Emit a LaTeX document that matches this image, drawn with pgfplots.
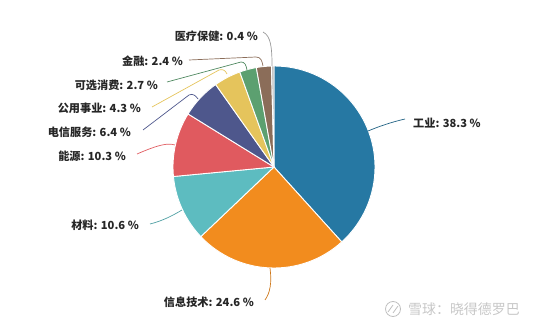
\documentclass[border=0pt]{standalone}
\usepackage{pgfplots}
\pgfplotsset{compat=1.18}
\usepackage{pgfplotstable}
\usepackage{fontspec}
\setmainfont{Noto Sans CJK SC}
\definecolor{cA}{RGB}{38,120,163}
\definecolor{cB}{RGB}{242,140,30}
\definecolor{cC}{RGB}{93,188,192}
\definecolor{cD}{RGB}{224,90,95}
\definecolor{cE}{RGB}{78,87,140}
\definecolor{cF}{RGB}{229,196,92}
\definecolor{cG}{RGB}{92,160,112}
\definecolor{cH}{RGB}{139,109,89}
\definecolor{cI}{RGB}{190,190,190}
\pgfplotstableread[col sep=comma]{
name,value,color
工业,38.3,cA
信息技术,24.6,cB
材料,10.6,cC
能源,10.3,cD
电信服务,6.4,cE
公用事业,4.3,cF
可选消费,2.7,cG
金融,2.4,cH
医疗保健,0.4,cI
}\piedata
\begin{document}
\begin{tikzpicture}
\begin{axis}[
  width=549bp, height=328bp, scale only axis,
  xmin=0, xmax=549, ymin=0, ymax=328,
  hide axis, clip=false]
\path (axis cs:0,0) rectangle (axis cs:549,328);
\pgfplotstablegetrowsof{\piedata}
\pgfmathtruncatemacro\N{\pgfplotsretval-1}
\def\cum{0}
\pgfplotsforeachungrouped \i in {0,...,\N}{%
  \pgfplotstablegetelem{\i}{value}\of\piedata \let\v\pgfplotsretval
  \pgfplotstablegetelem{\i}{color}\of\piedata \let\c\pgfplotsretval
  \pgfmathsetmacro\sa{90-\cum*3.6}%
  \pgfmathsetmacro\ea{90-(\cum+\v)*3.6}%
  \edef\temp{\noexpand\fill[\c, draw=white, line width=0.9pt, line join=round] (axis cs:274,161) -- ++(\sa:101bp) arc[start angle=\sa, end angle=\ea, radius=101bp] -- cycle;}%
  \temp
  \pgfmathsetmacro\cum{\cum+\v}%
}
% leader lines (pixel y -> 328 - y)
\draw[cA!80!black, line width=0.7pt] (axis cs:368,197) .. controls (axis cs:380,202) and (axis cs:392,206) .. (axis cs:405,209);
\draw[cB!85!black, line width=0.7pt] (axis cs:270,60) .. controls (axis cs:272,45) and (axis cs:270,35) .. (axis cs:265,28);
\draw[cC!85!black, line width=0.7pt] (axis cs:182,118) .. controls (axis cs:172,112) and (axis cs:162,107) .. (axis cs:150,104);
\draw[cD, line width=0.7pt] (axis cs:175,183) .. controls (axis cs:168,185) and (axis cs:160,184) .. (axis cs:137,174);
\draw[cE, line width=0.7pt] (axis cs:198,229) .. controls (axis cs:196,232) and (axis cs:193,235) .. (axis cs:189,233) -- (axis cs:143,198);
\draw[cF, line width=0.7pt] (axis cs:227,254) .. controls (axis cs:225,258) and (axis cs:223,259) .. (axis cs:219,258) -- (axis cs:152,221);
\draw[cG!85!black, line width=0.7pt] (axis cs:247,258) .. controls (axis cs:246,263) and (axis cs:245,266) .. (axis cs:241,266) -- (axis cs:167,246);
\draw[cH, line width=0.7pt] (axis cs:263,262) .. controls (axis cs:262,267) and (axis cs:261,271) .. (axis cs:256,271) -- (axis cs:189,268);
\draw[cI!80!black, line width=0.7pt] (axis cs:272,262) .. controls (axis cs:272,280) and (axis cs:271,292) .. (axis cs:263,296);
% labels
\begin{scope}[every node/.style={inner sep=0pt, font=\fontsize{11.2}{13}\selectfont\bfseries, text=black!85}]
\node[anchor=west] at (axis cs:413,205) {工业: 38.3 \%};
\node[anchor=east] at (axis cs:254,26) {信息技术: 24.6 \%};
\node[anchor=east] at (axis cs:139,103) {材料: 10.6 \%};
\node[anchor=east] at (axis cs:126,172) {能源: 10.3 \%};
\node[anchor=east] at (axis cs:131,196) {电信服务: 6.4 \%};
\node[anchor=east] at (axis cs:141,220) {公用事业: 4.3 \%};
\node[anchor=east] at (axis cs:158,243) {可选消费: 2.7 \%};
\node[anchor=east] at (axis cs:183,267) {金融: 2.4 \%};
\node[anchor=east] at (axis cs:258,292) {医疗保健: 0.4 \%};
\end{scope}
% watermark
\draw[black!25, line width=0.8pt] (axis cs:393,19) circle[radius=7.5bp];
\draw[black!25, line width=0.8pt] (axis cs:388,16) -- (axis cs:393,23) (axis cs:393,15) -- (axis cs:398,22);
\node[anchor=west, inner sep=0pt, text=black!22, font=\fontsize{14}{16}\selectfont] at (axis cs:408,19) {雪球：晓得德罗巴};
\end{axis}
\end{tikzpicture}
\end{document}
